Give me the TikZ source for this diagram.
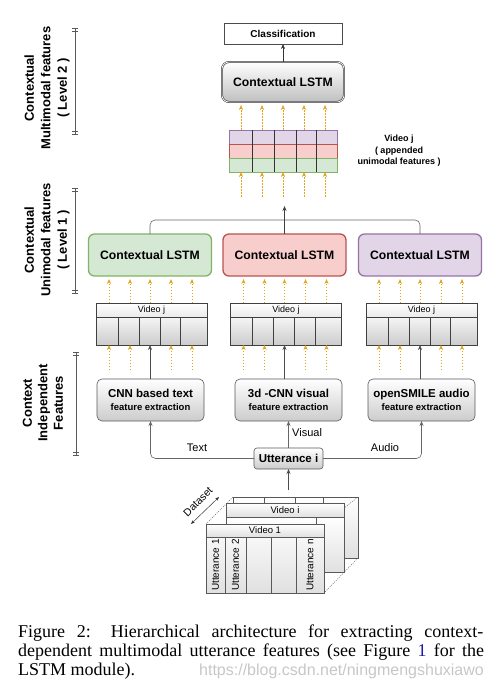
\documentclass[tikz,border=0pt]{standalone}
\usepackage{fontspec}
\setmainfont{Liberation Serif}
\setsansfont{Liberation Sans}
\usetikzlibrary{arrows.meta}

\definecolor{gfill}{HTML}{D5E8D4}\definecolor{gline}{HTML}{82B366}
\definecolor{rfill}{HTML}{F8CECC}\definecolor{rline}{HTML}{B85450}
\definecolor{pfill}{HTML}{E1D5E7}\definecolor{pline}{HTML}{9673A6}
\definecolor{amber}{HTML}{E3A21A}
\definecolor{linkblue}{HTML}{1A1AA6}

\tikzset{
  arr/.style={-{Stealth[length=5pt,width=4pt]}, draw=black!60, line width=0.6pt},
  oarr/.style={-{Stealth[length=5pt,width=4pt]}, draw=amber, line width=0.6pt, dash pattern=on 1.5pt off 1.5pt},
  nsep/.style={inner sep=0pt, outer sep=0pt},
  gbox/.style={nsep, draw=black!65, line width=0.6pt, rounded corners=5pt, top color=white, bottom color=black!20, font=\sffamily\bfseries, align=center},
  ulstm/.style={nsep, line width=1.3pt, rounded corners=6pt, minimum width=123pt, minimum height=42pt, font=\sffamily\bfseries\fontsize{12.2}{14}\selectfont},
  vhead/.style={nsep, draw=black!75, line width=0.6pt, top color=white, bottom color=black!8, minimum width=111pt, minimum height=14pt, font=\sffamily\fontsize{9}{10}\selectfont},
  vbody/.style={nsep, draw=black!75, line width=0.6pt, top color=black!4, bottom color=black!20, minimum width=111pt, minimum height=28pt},
  srow/.style={nsep, line width=0.6pt, minimum width=108pt, minimum height=14pt},
  lvl/.style={font=\sffamily\bfseries\fontsize{13}{16.5}\selectfont, align=center, rotate=90, inner sep=0pt},
  lbl/.style={font=\sffamily\fontsize{11}{13}\selectfont, inner sep=0pt},
  barline/.style={draw=black!65, line width=0.6pt},
  dsbox/.style={nsep, draw=black!65, line width=0.5pt, top color=white, bottom color=black!12},
  utxt/.style={font=\sffamily\fontsize{10}{12}\selectfont, rotate=90, anchor=west, inner sep=0pt},
  captext/.style={anchor=base west, inner sep=0pt, font=\fontsize{18}{19}\selectfont},
  fbox/.style={gbox, minimum width=107pt, minimum height=42pt, font=\sffamily\bfseries\fontsize{9.5}{13.5}\selectfont},
}
\def\mybar#1#2#3{%
  \draw[barline] (#1,#2) -- (#1,#3);
  \draw[barline] ({#1-3},#2) -- ({#1+3},#2);
  \draw[barline] ({#1-3},{#2+3}) -- ({#1+3},{#2+3});
  \draw[barline] ({#1-3},{#3-3}) -- ({#1+3},{#3-3});
  \draw[barline] ({#1-3},#3) -- ({#1+3},#3);
}

\begin{document}
\begin{tikzpicture}[x=1pt,y=-1pt]
\useasboundingbox (0,0) rectangle (495,684);

% ---------- left level labels ----------
\node[lvl] (l2) at (47,88) {Contextual\\Multimodal features\\( Level 2 )};
\node[lvl] (l1) at (47,240) {Contextual\\Unimodal features\\( Level 1 )};
\node[lvl, font=\sffamily\bfseries\fontsize{13}{15.5}\selectfont] (l0) at (43,403) {Context\\Independent\\Features};
\mybar{75}{28}{134}
\mybar{75}{188}{293}
\mybar{76}{352}{455}

% ---------- top: classification & multimodal LSTM ----------
\node[nsep, draw=black!70, fill=white, line width=0.6pt, minimum width=118pt, minimum height=21pt,
      font=\sffamily\bfseries\fontsize{10}{12}\selectfont] (cls) at (283,33.5) {Classification};
\node[gbox, minimum width=122pt, minimum height=40pt, rounded corners=7pt, draw=black!80,
      double=white, double distance=0.7pt, line width=0.6pt, bottom color=black!25,
      font=\sffamily\bfseries\fontsize{12.2}{14}\selectfont] (lt) at (283,82) {Contextual LSTM};
\draw[arr, draw=black!80] (lt.north) -- (cls.south);

% appended feature stack
\node[srow, fill=pfill, draw=pline] (sp) at (283,137) {};
\node[srow, fill=rfill, draw=rline] (sr) at (283,151) {};
\node[srow, fill=gfill, draw=gline] (sg) at (283,165) {};
\foreach \x in {252,274,296,316} \draw[black!80, line width=0.6pt] (\x,130) -- (\x,172);
\foreach \o in {-42,-21,0,21,42} {
  \draw[oarr] ([xshift=\o pt]sp.north) -- ++(0,-25);
  \draw[oarr] ([xshift=\o pt,yshift=-25pt]sg.south) -- ([xshift=\o pt]sg.south);
}
\node[font=\sffamily\bfseries\fontsize{9}{11.5}\selectfont, align=center, inner sep=0pt] (vlab) at (399,151)
  {Video j\\( appended\\unimodal features )};

% ---------- level 1 unimodal LSTMs ----------
\node[ulstm, fill=gfill, draw=gline] (lg) at (150,255) {Contextual LSTM};
\node[ulstm, fill=rfill, draw=rline] (lr) at (284.5,255) {Contextual LSTM};
\node[ulstm, fill=pfill, draw=pline] (lp) at (420,255) {Contextual LSTM};
\coordinate (mj) at (284.5,220);
\coordinate (mtip) at (284.5,206);
\draw[black!60, line width=0.6pt, rounded corners=5pt] (lg.north) |- (mj);
\draw[black!60, line width=0.6pt, rounded corners=5pt] (lp.north) |- (mj);
\draw[arr, draw=black!75] (lr.north) -- (mtip);

% ---------- video j boxes ----------
\foreach \c/\n in {151.5/g, 286/r, 421.5/p} {
  \node[vhead] (vh\n) at (\c,310) {Video j};
  \node[vbody] (vb\n) at (\c,331) {};
  \foreach \d in {-33.5,-12.5,8.5,29} \draw[black!75, line width=0.6pt] ({\c+(\d)},317) -- ({\c+(\d)},345);
  \foreach \o in {-42.5,-21.5,-1.5,19.5,40.5} \draw[oarr] ([xshift=\o pt]vh\n.north) -- ++(0,-24);
  \foreach \o in {-42.5,-21.5,19.5,40.5} \draw[oarr] ([xshift=\o pt,yshift=-25pt]vb\n.south) -- ([xshift=\o pt]vb\n.south);
}

% ---------- feature extraction boxes ----------
\node[fbox] (fg) at (150.5,400) {{\fontsize{11.5}{13}\selectfont CNN based text}\\feature extraction};
\node[fbox] (fr) at (288.5,400) {{\fontsize{11.5}{13}\selectfont 3d -CNN visual}\\feature extraction};
\node[fbox] (fp) at (421.5,400) {{\fontsize{11.5}{13}\selectfont openSMILE audio}\\feature extraction};
\draw[arr, draw=black!70] (fg.north -| lg.south) -- (vbg.south -| lg.south);
\draw[arr, draw=black!70] (fr.north -| lr.south) -- (vbr.south -| lr.south);
\draw[arr, draw=black!70] (fp.north -| lp.south) -- (vbp.south -| lp.south);

% ---------- utterance ----------
\node[gbox, rounded corners=3pt, minimum width=69pt, minimum height=21pt,
      font=\sffamily\bfseries\fontsize{11.5}{13}\selectfont] (utt) at (288.5,458.5) {Utterance i};
\draw[arr, rounded corners=5pt] (utt.west) -| (fg.south);
\draw[arr] (utt.north) -- (fr.south);
\draw[arr, rounded corners=5pt] (utt.east) -| (fp.south);
\node[lbl] (ttext) at (197,448) {Text};
\node[lbl, anchor=west] (tvis) at (292,433) {Visual};
\node[lbl] (taud) at (385,448) {Audio};

% ---------- dataset ----------
\node[dsbox, minimum width=125pt, minimum height=61pt] (db) at (295.5,527.5) {};
\foreach \x in {264,295,323} \draw[black!65, line width=0.5pt] (\x,497) -- (\x,558);
\draw[black!60, line width=0.5pt, dash pattern=on 1pt off 1.2pt] (db.north west) -- (206,524);
\draw[black!60, line width=0.5pt, dash pattern=on 1pt off 1.2pt] (db.north east) -- (324,524);
\draw[black!60, line width=0.5pt, dash pattern=on 1pt off 1.2pt] (db.south east) -- (324,593);
\node[dsbox, minimum width=118pt, minimum height=14pt, font=\sffamily\fontsize{9.5}{11}\selectfont] (dmh) at (285,510) {Video i};
\node[dsbox, minimum width=118pt, minimum height=55pt] (dmb) at (285,544.5) {};
\draw[black!65, line width=0.5pt] (316,517) -- (316,572);
\node[dsbox, minimum width=118pt, minimum height=13pt, font=\sffamily\fontsize{9.5}{11}\selectfont] (dfh) at (265,530.5) {Video 1};
\node[dsbox, minimum width=118pt, minimum height=56pt, top color=black!3, bottom color=black!12] (dfb) at (265,565) {};
\foreach \x in {225,246,271,296} \draw[black!65, line width=0.5pt] (\x,537) -- (\x,593);
\node[utxt] (u1) at (215.5,591) {Utterance 1};
\node[utxt] (u2) at (235.5,591) {Utterance 2};
\node[utxt] (un) at (310,591) {Utterance n};
\node[rotate=45, font=\sffamily\fontsize{10.5}{12}\selectfont, inner sep=0pt] (dsl) at (198,502) {Dataset};
\coordinate (dsa) at (191,524);
\coordinate (dsb) at (219,497);
\draw[{Stealth[length=4pt,width=3pt]}-{Stealth[length=4pt,width=3pt]}, black!80, line width=0.5pt] (dsa) -- (dsb);
\coordinate (dsup) at (288.5,490);
\draw[arr, draw=black!70] (dsup) -- (utt.south);

% ---------- caption ----------
\node[captext] (c1) at (18,637.5) {\makebox[465pt][s]{Figure 2: Hierarchical architecture for extracting context-}};
\node[captext] (c2) at (18,656.5) {\makebox[466pt][s]{dependent multimodal utterance features (see Figure \textcolor{linkblue}{1} for the}};
\node[captext] (c3) at (18,675.5) {LSTM module).};
\node[anchor=base west, inner sep=0pt, font=\sffamily\fontsize{16}{16}\selectfont, text=black!22] (wm) at (199,675.5) {https://blog.csdn.net/ningmengshuxiawo};
\end{tikzpicture}
\end{document}
